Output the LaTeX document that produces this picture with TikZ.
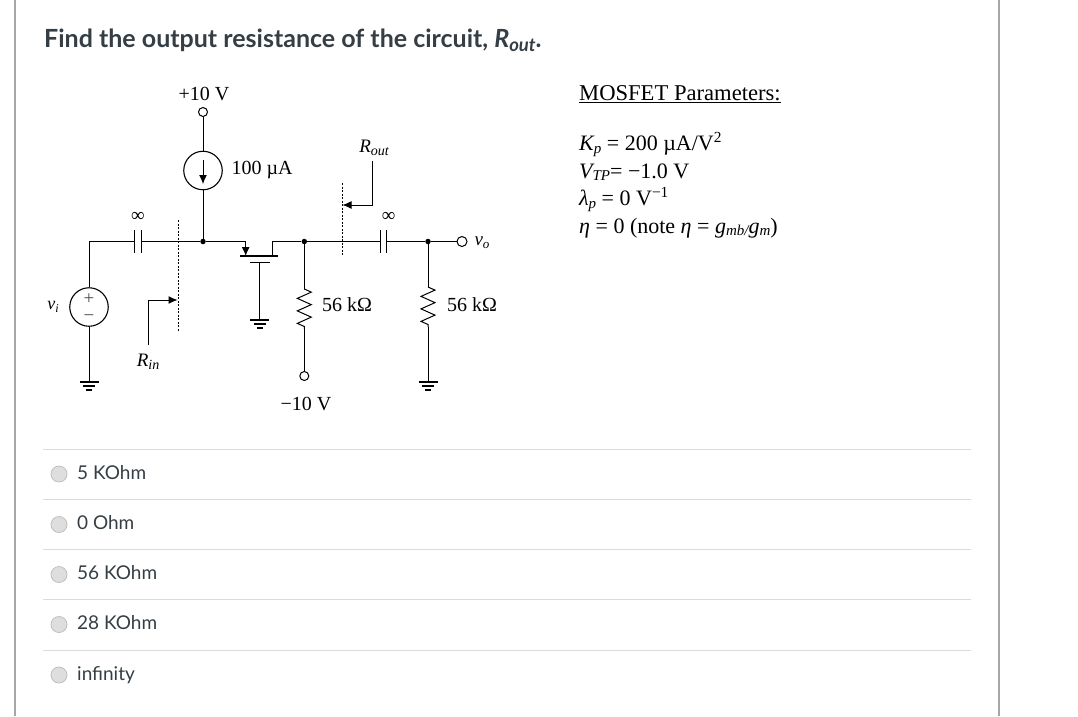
\documentclass[tikz,border=0pt]{standalone}
\usepackage{fontspec}
\setmainfont{Liberation Serif}
\newfontfamily\latofont{Lato}
\usetikzlibrary{arrows.meta, decorations.pathmorphing}
\definecolor{slate}{RGB}{52,62,68}
\newcommand{\subtxt}[2][-0.35ex]{\raisebox{#1}{\fontsize{14}{14}\selectfont\itshape #2}}
\tikzset{
	wire/.style={line width=1pt},
	head/.style={-{Latex[length=9pt, width=8pt]}},
	term/.style={circle, draw, line width=1pt, fill=white, minimum size=9pt, inner sep=0pt},
	junc/.style={circle, fill=black, minimum size=5.5pt, inner sep=0pt},
	srcc/.style={circle, draw, line width=1.1pt, minimum size=38.5pt, inner sep=0pt},
	res/.style={wire, decorate, decoration={zigzag, amplitude=7pt, segment length=12.5pt}},
	tick/.style={dash pattern=on 2pt off 1.5pt, line width=0.9pt},
	lab/.style={font=\fontsize{20}{23}\selectfont, text=black, inner sep=0pt},
	par/.style={font=\fontsize{22}{25}\selectfont, text=black, inner sep=0pt, anchor=base west},
	rule/.style={draw=black!14, line width=0.9pt},
	ans/.style={font=\latofont\fontsize{19}{22}\selectfont, text=slate, inner sep=0pt, anchor=base west},
	radio/.style={circle, draw=black!25, fill=black!13, line width=0.8pt, minimum size=16pt, inner sep=0pt},
	gnd/.pic={
		\draw[line width=1.1pt] (-9.5,0) -- (9.5,0) (-6,4) -- (6,4) (-3,8) -- (3,8);
	}
}
\begin{document}
\begin{tikzpicture}[x=1pt, y=-1pt]
	\useasboundingbox (0,0) rectangle (1078,716);

	% page frame
	\draw[draw=black!35, line width=1.2pt] (15,0) -- (15,716);
	\draw[draw=black!35, line width=1.2pt] (999,0) -- (999,716);

	\node[font=\latofont\bfseries\fontsize{25}{28}\selectfont, text=slate, inner sep=0pt, anchor=base west] (title) at (44,47)
		{Find the output resistance of the circuit, \textit{R}\raisebox{-0.35ex}{\fontsize{18.5}{18}\selectfont\itshape out}.};

	% upper branch
	\node[term] (vdd) at (203,112) {};
	\node[srcc] (ibias) at (203,170.5) {};
	\node[junc] (nsrc) at (203,241.5) {};
	\coordinate (itop) at (203,160);
	\coordinate (ibot) at (203,184);
	\draw[wire, head] (itop) -- (ibot);
	\draw[wire] (vdd) -- (ibias);
	\draw[wire] (ibias) -- (nsrc);
	\node[lab] (lvdd) at (204,94) {+10 V};
	\node[lab] (libias) at (262,170) {100 µA};

	% input side
	\node[srcc] (vin) at (89,307) {};
	\coordinate (vincorner) at (89,241.5);
	\coordinate (cinl) at (134.7,241.5);
	\coordinate (cinr) at (141,241.5);
	\coordinate (cinla) at (134.7,230);
	\coordinate (cinlb) at (134.7,252.7);
	\coordinate (cinra) at (141,230);
	\coordinate (cinrb) at (141,252.7);
	\coordinate (gnda) at (89,382);
	\draw[wire] (vin) -- (vincorner) -- (cinl);
	\draw[wire] (cinr) -- (nsrc);
	\draw[wire] (cinla) -- (cinlb);
	\draw[wire] (cinra) -- (cinrb);
	\draw[wire] (vin) -- (gnda);
	\pic at (gnda) {gnd};
	\node[lab, font=\fontsize{19}{20}\selectfont, text=black!70] (lplus) at (89,299) {+};
	\node[lab, font=\fontsize{19}{20}\selectfont, text=black!70] (lminus) at (89,318) {−};
	\node[lab, font=\itshape\fontsize{18}{20}\selectfont] (lvi) at (53,307) {v\raisebox{-0.3ex}{\fontsize{12}{12}\selectfont i}};
	\node[lab, font=\fontsize{19}{20}\selectfont] (linf) at (138,217) {∞};

	% mosfet
	\coordinate (ssrc) at (245.7,241.5);
	\coordinate (schan) at (245.7,256);
	\coordinate (chl) at (240,256);
	\coordinate (chr) at (278,256);
	\coordinate (dchan) at (272,256);
	\coordinate (dtop) at (272,241.5);
	\coordinate (gl) at (250,262.5);
	\coordinate (gr) at (270,262.5);
	\coordinate (gmid) at (259.5,262.5);
	\coordinate (gndb) at (259.5,320);
	\draw[wire] (nsrc) -- (ssrc);
	\draw[wire, head] (ssrc) -- (schan);
	\draw[line width=1.6pt] (chl) -- (chr);
	\draw[line width=1.6pt] (gl) -- (gr);
	\draw[wire] (gmid) -- (gndb);
	\pic at (gndb) {gnd};

	% drain branch
	\node[junc] (ndrain) at (304.3,241.5) {};
	\coordinate (rda) at (304.3,289);
	\coordinate (rdb) at (304.3,329);
	\node[term] (vss) at (304.3,376) {};
	\draw[wire] (dchan) -- (dtop) -- (ndrain);
	\draw[wire] (ndrain) -- (rda);
	\draw[res] (rda) -- (rdb);
	\draw[wire] (rdb) -- (vss);
	\node[lab] (lrd) at (347,304.5) {56 kΩ};
	\node[lab] (lvss) at (306,404) {−10 V};

	% output side
	\coordinate (coutl) at (380.7,241.5);
	\coordinate (coutr) at (386.7,241.5);
	\coordinate (coutla) at (380.7,230);
	\coordinate (coutlb) at (380.7,252.7);
	\coordinate (coutra) at (386.7,230);
	\coordinate (coutrb) at (386.7,252.7);
	\node[junc] (nout) at (428,241.5) {};
	\node[term, minimum size=10pt] (vout) at (462,241.5) {};
	\coordinate (rla) at (428,287);
	\coordinate (rlb) at (428,327);
	\coordinate (gndc) at (428,382);
	\draw[wire] (ndrain) -- (coutl);
	\draw[wire] (coutr) -- (nout);
	\draw[wire] (coutla) -- (coutlb);
	\draw[wire] (coutra) -- (coutrb);
	\draw[wire] (nout) -- (vout);
	\draw[wire] (nout) -- (rla);
	\draw[res] (rla) -- (rlb);
	\draw[wire] (rlb) -- (gndc);
	\pic at (gndc) {gnd};
	\node[lab, font=\fontsize{19}{20}\selectfont] (linfb) at (388.7,217) {∞};
	\node[lab, font=\itshape\fontsize{19}{20}\selectfont] (lvo) at (482,243) {v\raisebox{-0.3ex}{\fontsize{13}{13}\selectfont o}};
	\node[lab] (lrl) at (472,304.5) {56 kΩ};

	% Rin and Rout probes
	\coordinate (tina) at (178,220);
	\coordinate (tinb) at (178,332);
	\coordinate (touta) at (342,183);
	\coordinate (toutb) at (342,256);
	\coordinate (ainm) at (148,345);
	\coordinate (ainc) at (148,300);
	\coordinate (aine) at (177.5,300);
	\coordinate (aoutm) at (372,161);
	\coordinate (aoutc) at (372,205);
	\coordinate (aoute) at (342.5,205);
	\draw[tick] (tina) -- (tinb);
	\draw[tick] (touta) -- (toutb);
	\draw[wire, head] (ainm) -- (ainc) -- (aine);
	\draw[wire, head] (aoutm) -- (aoutc) -- (aoute);
	\node[lab, font=\itshape\fontsize{19}{22}\selectfont] (lrin) at (148,362) {R\subtxt{in}};
	\node[lab, font=\itshape\fontsize{19}{22}\selectfont] (lrout) at (374,148) {R\subtxt{out}};

	% parameters
	\node[par, font=\fontsize{22.6}{25}\selectfont] (phead) at (579,100) {\underline{MOSFET Parameters:}};
	\node[par] (pkp) at (579,150) {\textit{K\raisebox{-0.35ex}{\fontsize{15}{15}\selectfont p}} = 200 µA/V\textsuperscript{2}};
	\node[par] (pvt) at (579,178) {\textit{V\raisebox{-0.2ex}{\fontsize{15}{15}\selectfont TP}}= −1.0 V};
	\node[par] (plam) at (579,205) {\textit{λ\raisebox{-0.35ex}{\fontsize{15}{15}\selectfont p}} = 0 V\textsuperscript{−1}};
	\node[par] (peta) at (579,233) {\textit{η} = 0 (note \textit{η} = \textit{g\raisebox{-0.2ex}{\fontsize{15}{15}\selectfont mb/}g\raisebox{-0.2ex}{\fontsize{15}{15}\selectfont m}})};

	% answers
	\foreach \yy in {449,499,549,599.5,650} {
		\draw[rule] (43,\yy) -- (971,\yy);
	}
	\foreach \yy/\ans in {474/5 KOhm,524.5/0 Ohm,574.5/56 KOhm,624.5/28 KOhm,675/infinity} {
		\node[radio] at (59,\yy) {};
		\node[ans] at (77,\yy+5) {\ans};
	}
\end{tikzpicture}
\end{document}
